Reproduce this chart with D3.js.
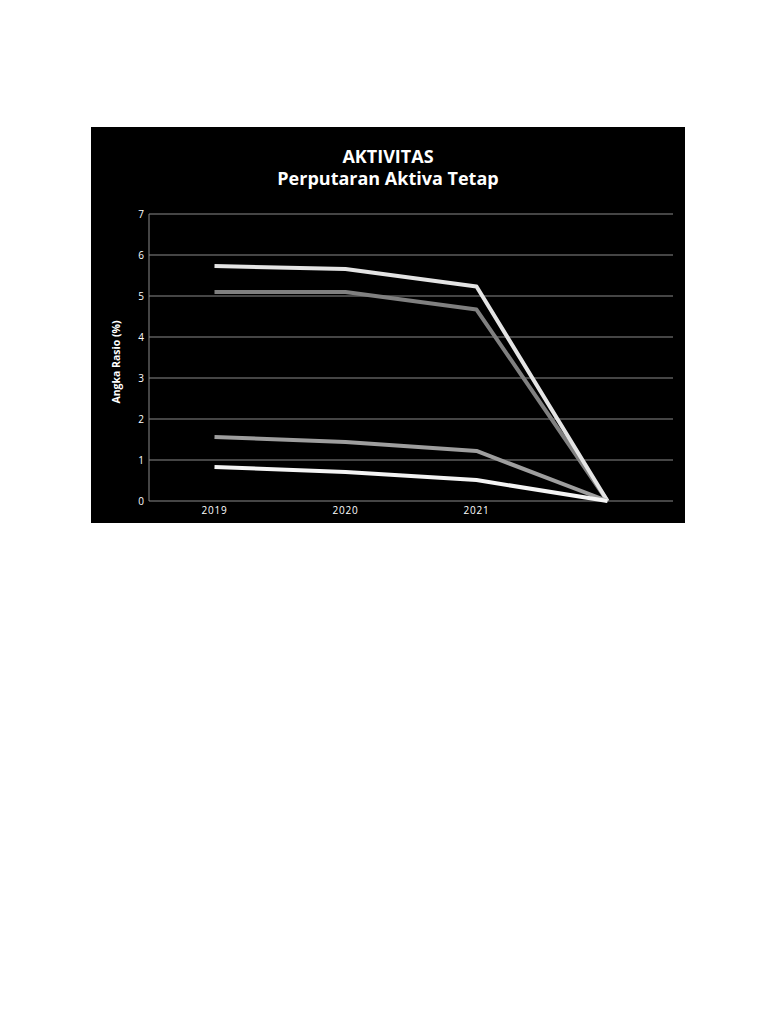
<!DOCTYPE html>
<html><head><meta charset="utf-8">
<script src="https://cdn.jsdelivr.net/npm/d3@7/dist/d3.min.js"></script>
<style>body{margin:0;background:#fff;} svg{display:block;}</style>
</head><body>
<svg id="c" width="768" height="1024"></svg>
<script>
const categories = ["2019", "2020", "2021", ""];
const seriesA = [5.73, 5.66, 5.23, 0];
const seriesB = [5.10, 5.10, 4.67, 0];
const seriesC = [1.56, 1.44, 1.22, 0];
const seriesD = [0.83, 0.71, 0.51, 0];
const yTicks = [0, 1, 2, 3, 4, 5, 6, 7];
const titleLines = ["AKTIVITAS", "Perputaran Aktiva Tetap"];
const yTitle = "Angka Rasio (%)";

const series = [
  {values: seriesB, color: "#808080"},
  {values: seriesA, color: "#e4e4e4"},
  {values: seriesC, color: "#9e9e9e"},
  {values: seriesD, color: "#f4f4f4"}
];

const svg = d3.select("#c");
const font = "'Open Sans', 'DejaVu Sans', sans-serif";
svg.append("rect").attr("x", 91).attr("y", 127).attr("width", 594).attr("height", 396).attr("fill", "#000");

const x = d3.scaleBand().domain(categories.map((c, i) => i)).range([149, 673]);
const y = d3.scaleLinear().domain([0, 7]).range([501, 214]);

const g = svg.append("g");
g.selectAll("line.grid").data(yTicks).join("line")
  .attr("x1", 149).attr("x2", 673)
  .attr("y1", d => y(d)).attr("y2", d => y(d))
  .attr("stroke", "#8a8a8a").attr("stroke-width", 1);
g.append("line").attr("x1", 149).attr("x2", 149).attr("y1", y(7)).attr("y2", y(0)).attr("stroke", "#8a8a8a");

g.selectAll("text.yt").data(yTicks).join("text")
  .attr("x", 144).attr("y", d => y(d) + 3.5).attr("text-anchor", "end")
  .attr("fill", "#fff").attr("font-size", 10).attr("font-family", font).text(d => d);

g.selectAll("text.xt").data(categories).join("text")
  .attr("x", (d, i) => x(i) + x.bandwidth() / 2).attr("y", 514).attr("text-anchor", "middle")
  .attr("fill", "#fff").attr("font-size", 10).attr("font-family", font).attr("letter-spacing", 0.8).text(d => d);

svg.append("text").attr("transform", "translate(120,362) rotate(-90)").attr("text-anchor", "middle")
  .attr("fill", "#fff").attr("font-size", 10.5).attr("font-weight", "bold").attr("font-family", font).text(yTitle);

svg.selectAll("text.title").data(titleLines).join("text")
  .attr("x", 388).attr("y", (d, i) => 163 + i * 22).attr("text-anchor", "middle")
  .attr("fill", "#fff").attr("font-size", 18).attr("font-weight", "bold").attr("font-family", font).text(d => d);

const line = d3.line().x((d, i) => x(i) + x.bandwidth() / 2).y(d => y(d));
svg.selectAll("path.s").data(series).join("path")
  .attr("d", d => line(d.values)).attr("fill", "none")
  .attr("stroke", d => d.color).attr("stroke-width", 4).attr("stroke-linejoin", "round");
</script>
</body></html>
